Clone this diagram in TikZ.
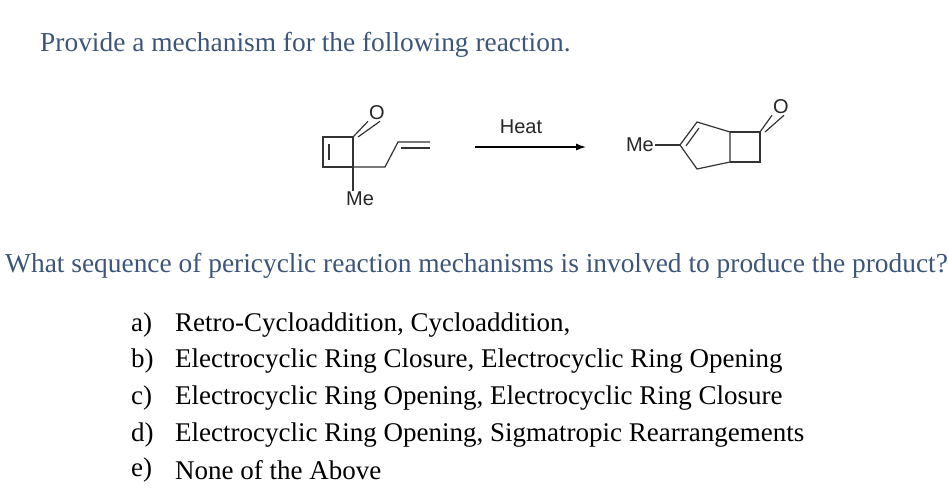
\documentclass[tikz,border=0pt]{standalone}
\usepackage{fontspec}
\setmainfont{Liberation Serif}
\newfontfamily\chemfont{Liberation Sans}
\usetikzlibrary{arrows.meta}
\definecolor{qblue}{RGB}{60,85,120}
\tikzset{bond/.style={line width=1.2pt,draw=black!80},
 lbl/.style={font=\chemfont\fontsize{20}{20}\selectfont,inner sep=1pt,text=black!85},
 qtext/.style={anchor=west,inner sep=0,font=\fontsize{27.4}{27.4}\selectfont},
 opt/.style={anchor=west,inner sep=0,font=\fontsize{27}{27}\selectfont}}
\begin{document}
\begin{tikzpicture}[x=1pt,y=-1pt]
\useasboundingbox[fill=white] (0,0) rectangle (948,497);
\node[qtext,text=qblue] (t1) at (40,45) {Provide a mechanism for the following reaction.};
\node[qtext,text=qblue] (t2) at (5,266) {What sequence of pericyclic reaction mechanisms is involved to produce the product?};
% reactant
\coordinate (a1) at (323,137); \coordinate (a2) at (353,137);
\coordinate (a3) at (353,167); \coordinate (a4) at (323,167);
\node[lbl] (o1) at (377,113) {O};
\node[lbl] (me1) at (360,199) {Me};
\coordinate (c1) at (385,167); \coordinate (c2) at (398,142); \coordinate (c3) at (430,142);
\draw[bond] (a1)--(a2)--(a3)--(a4)--cycle;
\draw[bond] (329,144)--(329,160);
\draw[bond] (a2)--(o1.south west);
\draw[bond] ([xshift=5pt]a2)--([xshift=3pt]o1.south);
\draw[bond] (a3)--(me1.north -| a3);
\draw[bond] (a3)--(c1)--(c2)--(c3);
\draw[bond] (401,148)--(430,148);
% arrow
\node[lbl] (heat) at (521,127) {Heat};
\coordinate (ar1) at (475,147); \coordinate (ar2) at (586,147);
\draw[line width=1.2pt,-{Latex[length=10pt,width=7pt]}] (ar1)--(ar2);
% product
\node[lbl,anchor=east] (me2) at (655,145) {Me};
\coordinate (p3) at (680,145); \coordinate (p2) at (697,122); \coordinate (p1) at (730,132);
\coordinate (p5) at (730,162); \coordinate (p4) at (697,169);
\coordinate (q1) at (760,132); \coordinate (q2) at (760,162);
\node[lbl] (o2) at (781,107) {O};
\draw[bond] (me2)--(p3);
\draw[bond] (p3)--(p2)--(p1)--(p5)--(p4)--cycle;
\draw[bond] (686,146)--(699,128);
\draw[bond] (p1)--(q1)--(q2)--(p5);
\draw[bond] (q1)--(o2.south west);
\draw[bond] ([xshift=5pt]q1)--([xshift=3pt]o2.south);
% options
\foreach \l/\t/\y in {a/{Retro-Cycloaddition, Cycloaddition,}/325,
 b/{Electrocyclic Ring Closure, Electrocyclic Ring Opening}/361,
 c/{Electrocyclic Ring Opening, Electrocyclic Ring Closure}/398,
 d/{Electrocyclic Ring Opening, Sigmatropic Rearrangements}/435,
 e/{None of the Above}/470}{
 \node[opt] (l\l) at (131,\y) {\l)};
 \node[opt] (o\l) at (175,\y) {\t};
}
\end{tikzpicture}
\end{document}
